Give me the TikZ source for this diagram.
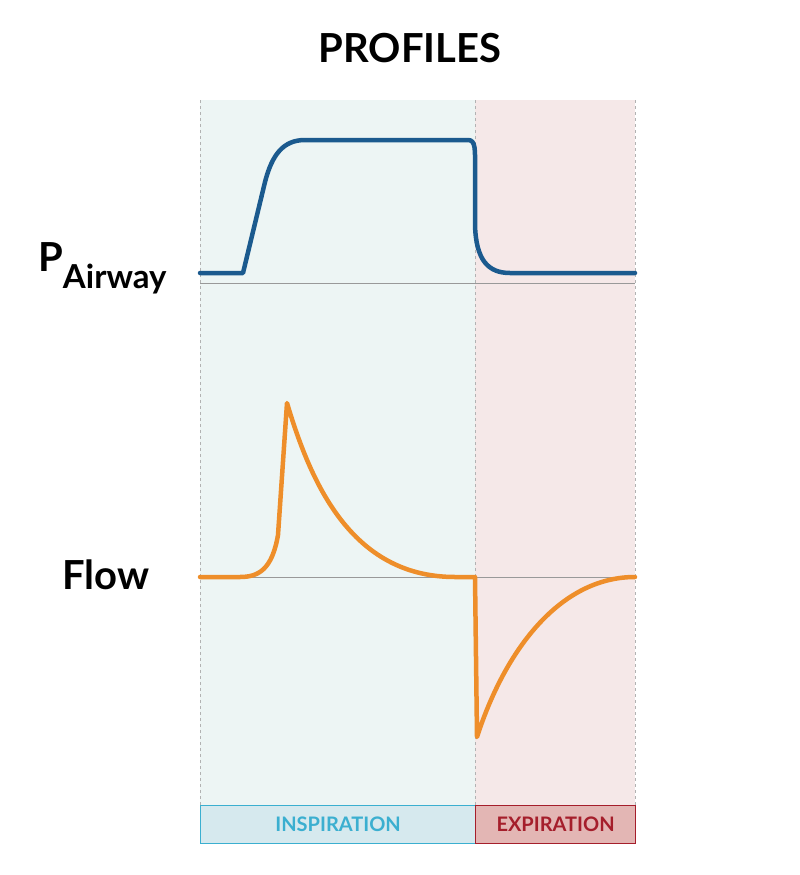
\documentclass[tikz,border=0pt]{standalone}
\usepackage{fontspec}
\setmainfont{Lato}
\definecolor{insbg}{HTML}{EDF5F4}
\definecolor{expbg}{HTML}{F5E8E8}
\definecolor{pblue}{HTML}{1B5A8E}
\definecolor{forange}{HTML}{EE8E2A}
\definecolor{insfill}{HTML}{D6E9EE}
\definecolor{insline}{HTML}{3BAFD0}
\definecolor{expfill}{HTML}{E3B6B4}
\definecolor{expline}{HTML}{A51E2B}
\tikzset{
 dashv/.style={draw=gray!60, dashed, line width=0.8pt},
 axisline/.style={draw=gray!80, line width=1pt},
 curve/.style={line width=4.5pt, line join=round, line cap=round},
 lbl/.style={font=\bfseries\fontsize{40}{46}\selectfont, text=black},
}
\begin{document}
\begin{tikzpicture}[x=1pt,y=-1pt]
\useasboundingbox (0,0) rectangle (800,875);
\fill[insbg] (200,100) rectangle (475,805);
\fill[expbg] (475,100) rectangle (635,805);
\foreach \x in {200,475,635} \draw[dashv] (\x,100) -- (\x,805);
\coordinate (a1) at (200,283); \coordinate (a2) at (635,283);
\coordinate (b1) at (200,577); \coordinate (b2) at (635,577);
\draw[axisline] (a1) -- (a2);
\draw[axisline] (b1) -- (b2);
% pressure
\draw[curve, pblue] (200,273) -- (243,273) -- (265,182)
  .. controls (272,155) and (283,140) .. (305,140) -- (468,140)
  .. controls (476,140) and (475,150) .. (475,170) -- (475,225)
  .. controls (476,260) and (488,273) .. (510,273) -- (635,273);
% flow
\draw[curve, forange] (200,577) -- (240,577)
  .. controls (258,577) and (272,570) .. (278,535) -- (287,403)
  .. controls (310,480) and (350,577) .. (455,577) -- (475,577) -- (477,737)
  .. controls (505,650) and (560,577) .. (635,577);
% boxes
\node[draw=insline, fill=insfill, line width=1.2pt, minimum width=275pt, minimum height=38pt, inner sep=0pt,
  anchor=north west, text=insline, font=\bfseries\fontsize{20}{22}\selectfont] (ins) at (200,805) {INSPIRATION};
\node[draw=expline, fill=expfill, line width=1.2pt, minimum width=160pt, minimum height=38pt, inner sep=0pt,
  anchor=north west, text=expline, font=\bfseries\fontsize{20}{22}\selectfont] (exp) at (475,805) {EXPIRATION};
\node[lbl] (title) at (410,48) {PROFILES};
\node[lbl, anchor=west, inner sep=0pt] (paw) at (38,268) {P\raisebox{-17pt}{\fontsize{33}{36}\selectfont Airway}};
\node[lbl] (flow) at (106,575) {Flow};
\end{tikzpicture}
\end{document}
